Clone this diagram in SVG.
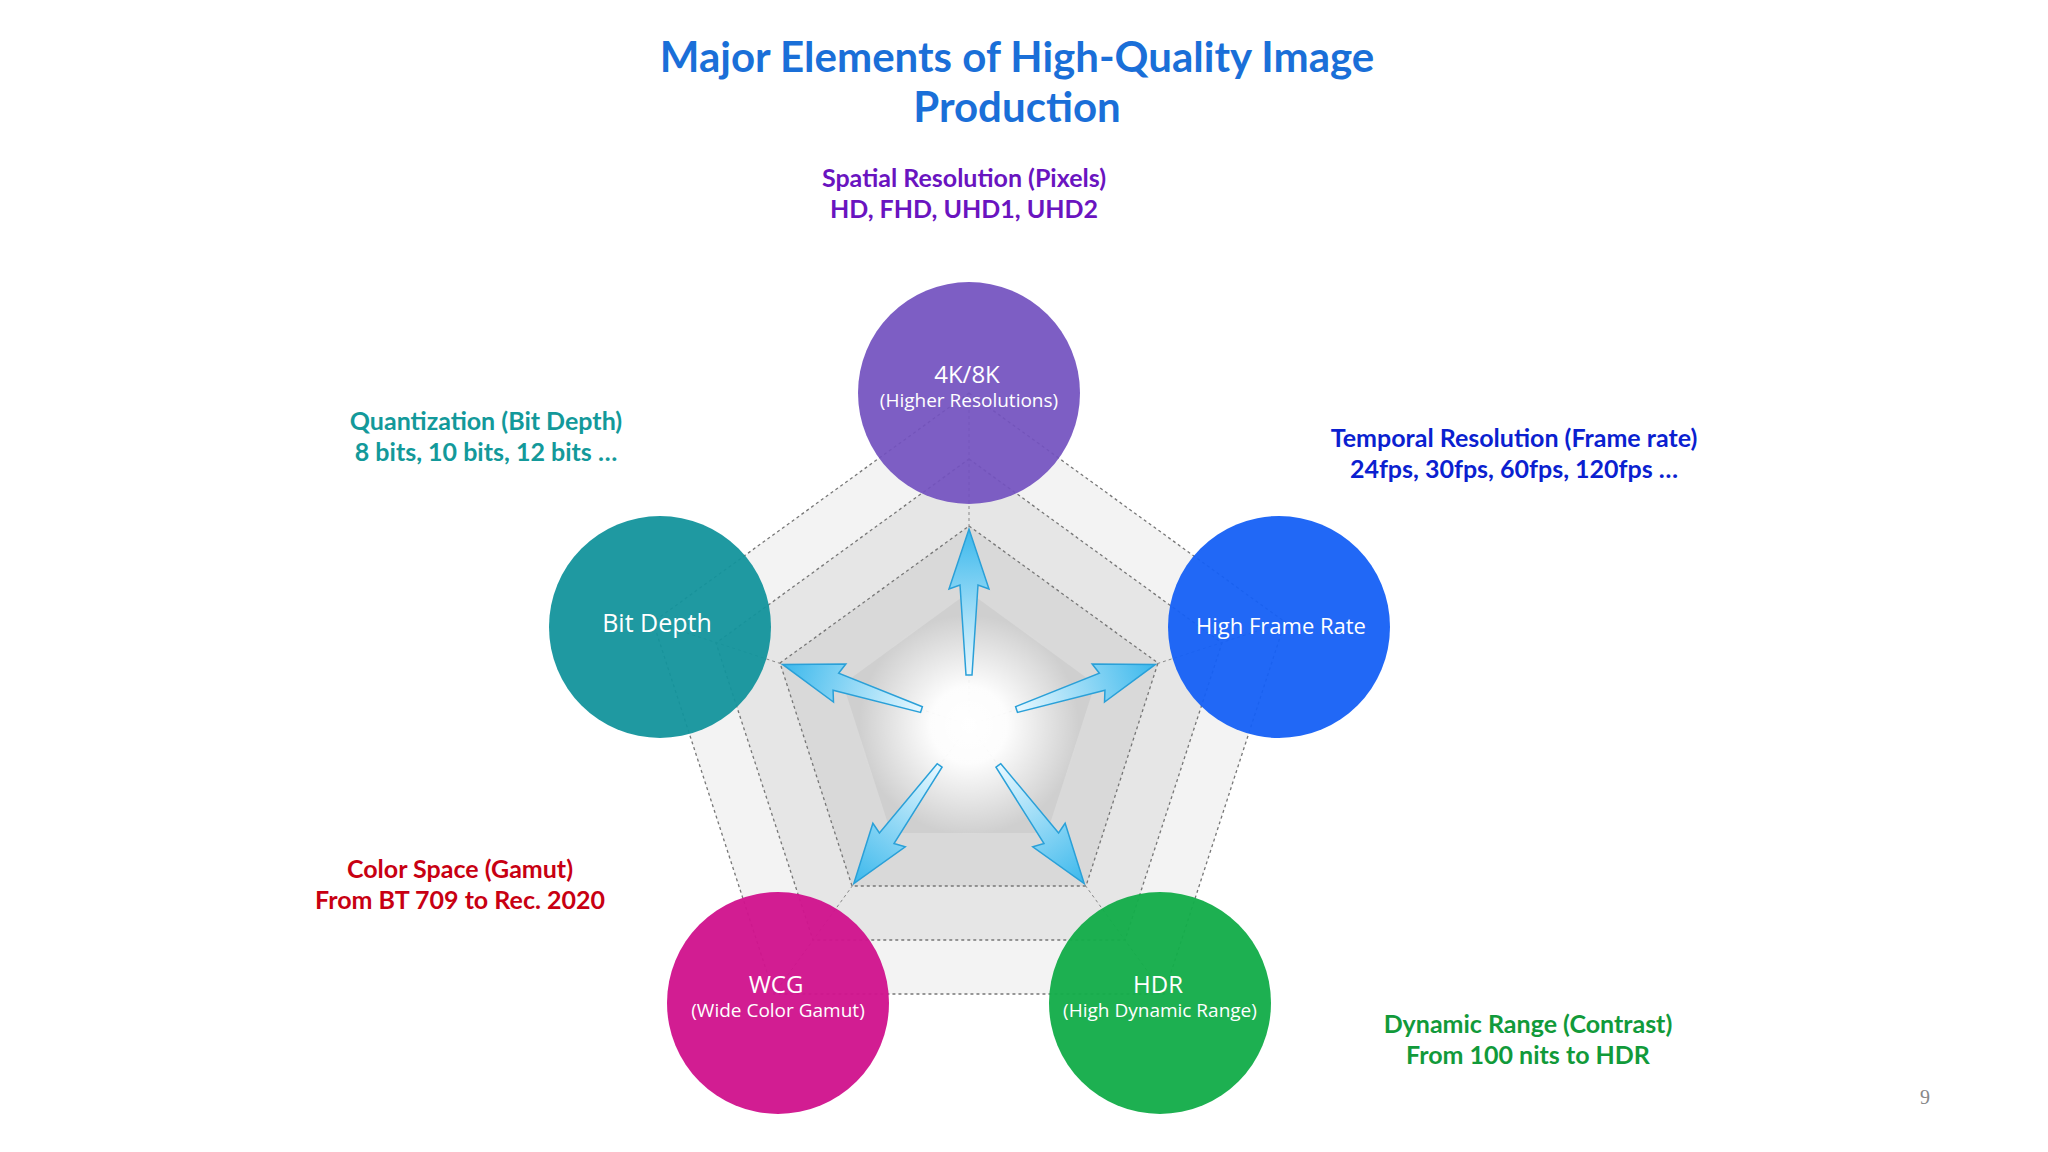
<svg xmlns="http://www.w3.org/2000/svg" width="2048" height="1152" viewBox="0 0 2048 1152">
<defs>
<style>
.t{font-family:"Lato","Noto Sans",sans-serif;font-weight:bold;text-anchor:middle}
.c{font-family:"Open Sans","Noto Sans",sans-serif;fill:#fff;text-anchor:middle}
.pe{stroke:#777;stroke-width:1.3;stroke-dasharray:3 3}
</style>
<radialGradient id="glow" cx="0.5" cy="0.5" r="0.5">
<stop offset="0" stop-color="#fff"/><stop offset="0.35" stop-color="#fff" stop-opacity="0.95"/><stop offset="1" stop-color="#fff" stop-opacity="0"/>
</radialGradient>
<linearGradient id="ar" x1="0" y1="1" x2="0" y2="0">
<stop offset="0" stop-color="#e8f8ff"/><stop offset="1" stop-color="#3bb8ec"/>
</linearGradient>
<g id="arrow"><polygon points="-3,-50 3,-50 9,-140 20,-136 0,-196 -20,-136 -9,-140" fill="url(#ar)" stroke="#2aa0d8" stroke-width="1.5"/></g>
</defs>
<rect width="2048" height="1152" fill="#fff"/>
<text class="t" x="1017" y="72" font-size="42" fill="#1a6fd8">Major Elements of High-Quality Image</text>
<text class="t" x="1017" y="122" font-size="42" fill="#1a6fd8">Production</text>
<g id="web" transform="translate(969,725)">
<polygon points="0,-332 316,-103 195,269 -195,269 -316,-103" fill="#f3f3f3" class="pe"/>
<polygon points="0,-266 253,-82 156,215 -156,215 -253,-82" fill="#e6e6e6" class="pe"/>
<polygon points="0,-199 189,-62 117,161 -117,161 -189,-62" fill="#d9d9d9" class="pe"/>
<polygon points="0,-133 126,-41 78,108 -78,108 -126,-41" fill="#cfcfcf"/>
<g stroke="#888" stroke-width="1" stroke-dasharray="3 3" fill="none"><line x1="0" y1="0" x2="0" y2="-332"/><line x1="0" y1="0" x2="316" y2="-103"/><line x1="0" y1="0" x2="195" y2="269"/><line x1="0" y1="0" x2="-195" y2="269"/><line x1="0" y1="0" x2="-316" y2="-103"/></g>
<circle r="110" fill="url(#glow)"/>
</g>
<g id="connectors" transform="translate(969,725)">
<use href="#arrow"/>
<use href="#arrow" transform="rotate(72)"/>
<use href="#arrow" transform="rotate(144)"/>
<use href="#arrow" transform="rotate(216)"/>
<use href="#arrow" transform="rotate(288)"/>
</g>
<g id="n-res"><circle cx="969" cy="393" r="111" fill="#7352c0" opacity="0.93"/>
<text class="c" x="967" y="383" font-size="24">4K/8K</text><text class="c" x="969" y="407" font-size="19">(Higher Resolutions)</text></g>
<g id="n-hfr"><circle cx="1279" cy="627" r="111" fill="#1560f5" opacity="0.95"/>
<text class="c" x="1281" y="634" font-size="22">High Frame Rate</text></g>
<g id="n-bit"><circle cx="660" cy="627" r="111" fill="#13939c" opacity="0.95"/>
<text class="c" x="657" y="632" font-size="25">Bit Depth</text></g>
<g id="n-wcg"><circle cx="778" cy="1003" r="111" fill="#d0148e" opacity="0.96"/>
<text class="c" x="776" y="993" font-size="24">WCG</text><text class="c" x="778" y="1017" font-size="19">(Wide Color Gamut)</text></g>
<g id="n-hdr"><circle cx="1160" cy="1003" r="111" fill="#14ad4a" opacity="0.96"/>
<text class="c" x="1158" y="993" font-size="24">HDR</text><text class="c" x="1160" y="1017" font-size="19">(High Dynamic Range)</text></g>
<g id="labels" font-size="25">
<text class="t" x="964" y="187" fill="#6a14c0">Spatial Resolution (Pixels)</text>
<text class="t" x="964" y="218" fill="#6a14c0">HD, FHD, UHD1, UHD2</text>
<text class="t" x="486" y="430" fill="#13999a">Quantization (Bit Depth)</text>
<text class="t" x="486" y="461" fill="#13999a">8 bits, 10 bits, 12 bits …</text>
<text class="t" x="1514" y="447" fill="#0b1fd0">Temporal Resolution (Frame rate)</text>
<text class="t" x="1514" y="478" fill="#0b1fd0">24fps, 30fps, 60fps, 120fps …</text>
<text class="t" x="460" y="878" fill="#c80012">Color Space (Gamut)</text>
<text class="t" x="460" y="909" fill="#c80012">From BT 709 to Rec. 2020</text>
<text class="t" x="1528" y="1033" fill="#119a3a">Dynamic Range (Contrast)</text>
<text class="t" x="1528" y="1064" fill="#119a3a">From 100 nits to HDR</text>
</g>
<text x="1925" y="1104" font-family="Liberation Serif,serif" font-size="20" fill="#888" text-anchor="middle">9</text>
</svg>
